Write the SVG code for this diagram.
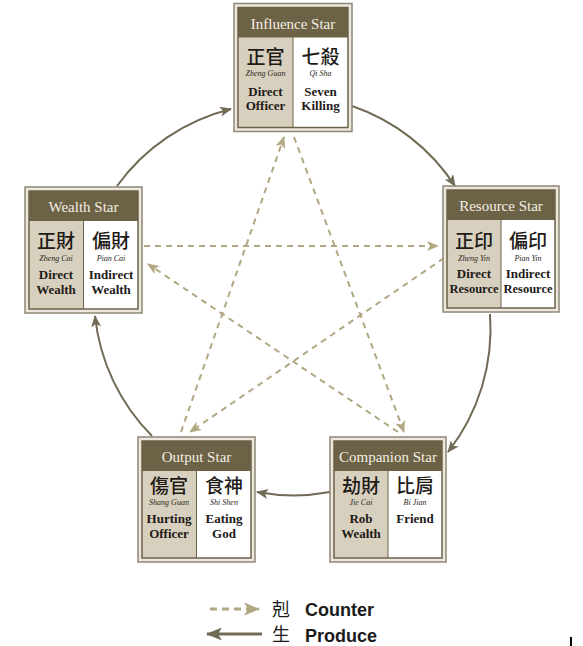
<svg xmlns="http://www.w3.org/2000/svg" width="583" height="646" viewBox="0 0 583 646">
<defs>
<marker id="ahs" viewBox="0 0 12 10" refX="11" refY="5" markerWidth="12" markerHeight="10" orient="auto" markerUnits="userSpaceOnUse"><path d="M0,0 L12,5 L0,10 L3,5 z" fill="#716a55"/></marker>
<marker id="ahd" viewBox="0 0 12 10" refX="11" refY="5" markerWidth="12" markerHeight="10" orient="auto" markerUnits="userSpaceOnUse"><path d="M0,0 L12,5 L0,10 L3,5 z" fill="#b2a783"/></marker>
<marker id="ahsL" viewBox="0 0 16 13" refX="15" refY="6.5" markerWidth="16" markerHeight="13" orient="auto" markerUnits="userSpaceOnUse"><path d="M0,0 L16,6.5 L0,13 L4,6.5 z" fill="#716a55"/></marker>
<marker id="ahdL" viewBox="0 0 16 13" refX="15" refY="6.5" markerWidth="16" markerHeight="13" orient="auto" markerUnits="userSpaceOnUse"><path d="M0,0 L16,6.5 L0,13 L4,6.5 z" fill="#b2a783"/></marker>
</defs>
<style>
.outer{fill:#ece8df;stroke:#8f8775;stroke-width:1.5}
.left{fill:#d8d0bf}
.right{fill:#ffffff}
.inner{fill:none;stroke:#6b6248;stroke-width:1.5}
.hdr{fill:#6c6246}
.div{stroke:#6b6248;stroke-width:1}
.ht{font-family:"Liberation Serif",serif;font-size:15px;fill:#f3efe4;text-anchor:middle}
.cn{font-family:"Noto Sans CJK TC","Noto Sans CJK SC",sans-serif;font-size:19px;font-weight:500;fill:#1e1b17;text-anchor:middle}
.py{font-family:"Liberation Serif",serif;font-style:italic;font-size:8px;fill:#2a2620;text-anchor:middle}
.bt{font-family:"Liberation Serif",serif;font-weight:bold;font-size:13px;fill:#1e1b17;text-anchor:middle}
.bs{font-size:12.5px}
.solid{fill:none;stroke:#716a55;stroke-width:2}
.dash{fill:none;stroke:#b2a783;stroke-width:2;stroke-dasharray:6 5}
.lg{font-family:"Liberation Sans",Arial,sans-serif;font-weight:bold;font-size:18px;fill:#1a1a1a}
.lgc{font-family:"Noto Sans CJK TC","Noto Sans CJK SC",sans-serif;font-size:18px;fill:#1a1a1a}
</style>
<rect width="583" height="646" fill="#ffffff"/>

<g id="connectors">
<path class="solid" d="M352,106 A200 200 0 0 1 455,186" marker-end="url(#ahs)"/>
<path class="solid" d="M490,314 A200 200 0 0 1 448,452" marker-end="url(#ahs)"/>
<path class="solid" d="M330,492 A200 200 0 0 1 257,492" marker-end="url(#ahs)"/>
<path class="solid" d="M152,436 A200 200 0 0 1 95,316" marker-end="url(#ahs)"/>
<path class="solid" d="M117,186 A200 200 0 0 1 231,109" marker-end="url(#ahs)"/>
<path class="dash" d="M144,246 L438,246" marker-end="url(#ahd)"/>
<path class="dash" d="M444,258 L190,432" marker-end="url(#ahd)"/>
<path class="dash" d="M181,432 L284,137" marker-end="url(#ahd)"/>
<path class="dash" d="M294,137 L404,432" marker-end="url(#ahd)"/>
<path class="dash" d="M398,432 L148,264" marker-end="url(#ahd)"/>
</g>

<g id="influence">
<rect class="outer" x="234" y="3.5" width="118" height="128"/>
<rect class="left" x="238" y="34" width="55" height="93.5"/>
<rect class="right" x="293" y="34" width="55" height="93.5"/>
<rect class="hdr" x="238" y="7.5" width="110" height="30"/>
<line class="div" x1="293" y1="37.5" x2="293" y2="127.5"/>
<rect class="inner" x="238" y="7.5" width="110" height="120"/>
<text class="ht" x="293" y="29">Influence Star</text>
<text class="cn" x="265.5" y="64">正官</text>
<text class="py" x="265.5" y="76">Zheng Guan</text>
<text class="bt" x="265.5" y="96">Direct</text>
<text class="bt" x="265.5" y="110">Officer</text>
<text class="cn" x="320.5" y="64">七殺</text>
<text class="py" x="320.5" y="76">Qi Sha</text>
<text class="bt" x="320.5" y="96">Seven</text>
<text class="bt" x="320.5" y="110">Killing</text>
</g>

<g id="wealth">
<rect class="outer" x="25" y="187" width="117" height="126"/>
<rect class="left" x="29" y="218" width="54.5" height="91"/>
<rect class="right" x="83.5" y="218" width="54.5" height="91"/>
<rect class="hdr" x="29" y="191" width="109" height="30"/>
<line class="div" x1="83.5" y1="221" x2="83.5" y2="309"/>
<rect class="inner" x="29" y="191" width="109" height="118"/>
<text class="ht" x="83.5" y="212">Wealth Star</text>
<text class="cn" x="56" y="248">正財</text>
<text class="py" x="56" y="261">Zheng Cai</text>
<text class="bt" x="56" y="279">Direct</text>
<text class="bt" x="56" y="294">Wealth</text>
<text class="cn" x="111" y="248">偏財</text>
<text class="py" x="111" y="261">Pian Cai</text>
<text class="bt" x="111" y="279">Indirect</text>
<text class="bt" x="111" y="294">Wealth</text>
</g>

<g id="resource">
<rect class="outer" x="443" y="186" width="116" height="126"/>
<rect class="left" x="447" y="217" width="54" height="91"/>
<rect class="right" x="501" y="217" width="54" height="91"/>
<rect class="hdr" x="447" y="190" width="108" height="30"/>
<line class="div" x1="501" y1="220" x2="501" y2="308"/>
<rect class="inner" x="447" y="190" width="108" height="118"/>
<text class="ht" x="501" y="211">Resource Star</text>
<text class="cn" x="474" y="248">正印</text>
<text class="py" x="474" y="261">Zheng Yin</text>
<text class="bt" x="474" y="278">Direct</text>
<text class="bt bs" x="474" y="293">Resource</text>
<text class="cn" x="528" y="248">偏印</text>
<text class="py" x="528" y="261">Pian Yin</text>
<text class="bt" x="528" y="278">Indirect</text>
<text class="bt bs" x="528" y="293">Resource</text>
</g>

<g id="output">
<rect class="outer" x="138" y="437" width="117" height="125"/>
<rect class="left" x="142" y="468" width="54.5" height="90"/>
<rect class="right" x="196.5" y="468" width="54.5" height="90"/>
<rect class="hdr" x="142" y="441" width="109" height="30"/>
<line class="div" x1="196.5" y1="471" x2="196.5" y2="558"/>
<rect class="inner" x="142" y="441" width="109" height="117"/>
<text class="ht" x="196.5" y="462">Output Star</text>
<text class="cn" x="169" y="493">傷官</text>
<text class="py" x="169" y="505">Shang Guan</text>
<text class="bt" x="169" y="523">Hurting</text>
<text class="bt" x="169" y="538">Officer</text>
<text class="cn" x="224" y="493">食神</text>
<text class="py" x="224" y="505">Shi Shen</text>
<text class="bt" x="224" y="523">Eating</text>
<text class="bt" x="224" y="538">God</text>
</g>

<g id="companion">
<rect class="outer" x="330" y="437" width="116" height="125"/>
<rect class="left" x="334" y="468" width="54" height="90"/>
<rect class="right" x="388" y="468" width="54" height="90"/>
<rect class="hdr" x="334" y="441" width="108" height="30"/>
<line class="div" x1="388" y1="471" x2="388" y2="558"/>
<rect class="inner" x="334" y="441" width="108" height="117"/>
<text class="ht" x="388" y="462">Companion Star</text>
<text class="cn" x="361" y="493">劫財</text>
<text class="py" x="361" y="505">Jie Cai</text>
<text class="bt" x="361" y="523">Rob</text>
<text class="bt" x="361" y="538">Wealth</text>
<text class="cn" x="415" y="493">比肩</text>
<text class="py" x="415" y="505">Bi Jian</text>
<text class="bt" x="415" y="523">Friend</text>
</g>

<g id="legend">
<path d="M210,609 L259,609" fill="none" stroke="#b2a783" stroke-width="3" stroke-dasharray="7 5" marker-end="url(#ahdL)"/>
<text class="lgc" x="272" y="616">剋</text>
<text class="lg" x="305" y="616">Counter</text>
<path d="M262,634 L207,634" fill="none" stroke="#716a55" stroke-width="3" marker-end="url(#ahsL)"/>
<text class="lgc" x="272" y="641">生</text>
<text class="lg" x="305" y="642">Produce</text>
</g>
<rect x="570" y="637" width="2" height="9" fill="#000000"/>
</svg>
